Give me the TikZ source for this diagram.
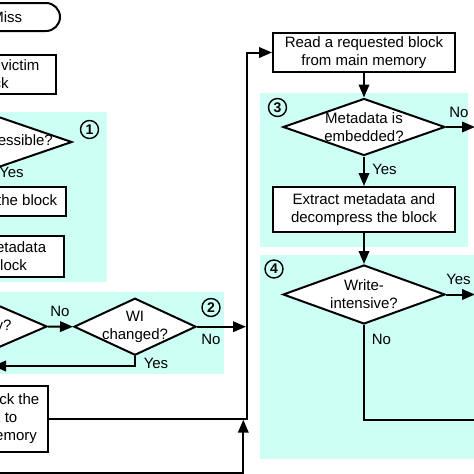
\documentclass[tikz,border=0pt]{standalone}
\usepackage{fontspec}
\setmainfont{Liberation Sans}
\usetikzlibrary{shapes.geometric,arrows.meta}
\definecolor{zone}{RGB}{205,255,245}
\begin{document}
\begin{tikzpicture}[x=1pt,y=-1pt,
  every node/.style={font=\fontsize{15}{18}\selectfont},
  box/.style={draw, line width=2pt, fill=white, inner sep=0pt, align=center},
  termbox/.style={box, rounded corners=14pt},
  dia/.style={draw, diamond, line width=2pt, fill=white, inner sep=0pt},
  diatext/.style={align=center, inner sep=0pt},
  arr/.style={line width=2pt, -{Triangle[length=13pt,width=10.5pt]}},
  ln/.style={line width=2pt},
  lab/.style={font=\fontsize{15}{17}\selectfont, inner sep=0pt},
  num/.style={draw, circle, line width=1.4pt, inner sep=0pt, minimum size=18pt, font=\fontsize{14}{14}\selectfont\bfseries}
]
\useasboundingbox (0,0) rectangle (474,474);
\clip (0,0) rectangle (474,474);
\fill[white] (0,0) rectangle (474,474);

% shaded zones
\fill[zone] (-10,112) rectangle (107,282);
\fill[zone] (-10,292) rectangle (224,374);
\fill[zone] (260,93) rectangle (468,247);
\fill[zone] (260,255) rectangle (480,459);

% zone numbers
\node[num] (n1) at (89.5,129.5) {1};
\node[num] (n2) at (211,307.5) {2};
\node[num] (n3) at (277.5,107.5) {3};
\node[num] (n4) at (274,269) {4};

% left column
\node[termbox, minimum width=138pt, minimum height=28pt] (term) at (-9,17) {LLC Miss};
\node[box, minimum width=130pt, minimum height=39pt] (vb) at (-9,74.5) {Look for victim\\block};
\node[dia, minimum width=162pt, minimum height=56pt] (d1) at (-9,142) {};
\node[diatext, anchor=east] (d1t) at (53,142) {Compressible?};
\node[box, minimum width=150pt, minimum height=29pt] (cb) at (-9,201.5) {Compress the block};
\node[box, minimum width=150pt, minimum height=41pt] (mb) at (-11,256.5) {Embed metadata\\in the block};
\node[dia, minimum width=110pt, minimum height=48pt] (d2) at (-8,326.5) {};
\node[diatext] (d2t) at (d2.center) {Dirty?};
\node[dia, minimum width=122pt, minimum height=57pt] (wi) at (135,326.7) {};
\node[diatext] (wit) at (wi.center) {WI\\changed?};
\node[box, minimum width=112pt, minimum height=66pt] (wb) at (-8.5,418.7) {Write back the\\block to\\main memory};

% right column
\node[box, minimum width=182pt, minimum height=39pt] (rb) at (364,52.5) {Read a requested block\\from main memory};
\node[dia, minimum width=162pt, minimum height=57pt] (d3) at (364,127) {};
\node[diatext] (d3t) at (d3.center) {Metadata is\\embedded?};
\node[box, minimum width=182pt, minimum height=45pt] (eb) at (364,209.5) {Extract metadata and\\decompress the block};
\node[dia, minimum width=162pt, minimum height=59pt] (d4) at (364,294.5) {};
\node[diatext] (d4t) at (d4.center) {Write-\\intensive?};

% helper coordinates
\coordinate (cup) at (247,52.5);
\coordinate (cmid) at (246,326.7);
\coordinate (jy) at (-7,366);
\coordinate (offL) at (-20,472.5);
\coordinate (mrg) at (243.3,419.7);
\coordinate (offR) at (480,419.7);
\coordinate (out3) at (475,127);
\coordinate (out4) at (475,294.5);

% connectors, left
\draw[arr] (term) -- (vb);
\draw[arr] (vb) -- (d1);
\draw[arr] (d1) -- (cb);
\draw[arr] (cb) -- (mb);
\draw[arr] (d2) -- (wb);
\draw[arr] (d2.east) -- (wi.west);
\draw[arr] (wi.east) -- (cmid);
\draw[arr] (wi.south) |- (jy);
\draw[arr] (wb.east) -| (cup) -- (rb.west);
\draw[arr] (offL) -| (mrg);

% connectors, right
\draw[arr] (rb) -- (d3);
\draw[arr] (d3) -- (eb);
\draw[arr] (eb) -- (d4);
\draw[arr] (d3.east) -- (out3);
\draw[arr] (d4.east) -- (out4);
\draw[ln] (d4.south) |- (offR);

% labels
\node[lab] (l1) at (11.5,172.5) {Yes};
\node[lab] (l2) at (60,311) {No};
\node[lab] (l3) at (211,339.5) {No};
\node[lab] (l4) at (156,363) {Yes};
\node[lab] (l5) at (459,112) {No};
\node[lab] (l6) at (384.5,169) {Yes};
\node[lab] (l7) at (458.5,279) {Yes};
\node[lab] (l8) at (381.5,339) {No};
\end{tikzpicture}
\end{document}
